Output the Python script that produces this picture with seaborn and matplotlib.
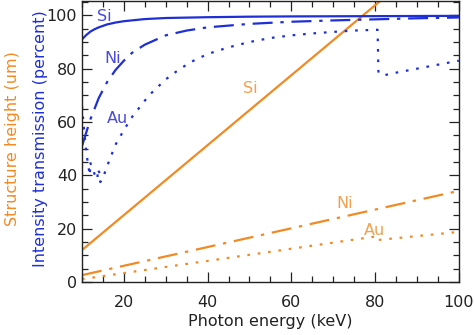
import matplotlib
matplotlib.use("Agg")
import matplotlib.pyplot as plt
from matplotlib.ticker import MultipleLocator
import seaborn as sns
import pandas as pd

sns.set_style("ticks")
plt.rcParams['font.family'] = ['DejaVu Sans']

# Transmission (percent) vs photon energy (keV)
si_t_x = [10, 11, 12, 13, 14, 16, 18, 20, 25, 30, 40, 50, 60, 80, 100]
si_t_y = [91, 92.6, 93.9, 94.8, 95.5, 96.6, 97.3, 97.8, 98.6, 99.0, 99.3, 99.5, 99.6, 99.7, 99.8]

ni_t_x = [10, 11, 12, 13, 14, 16, 18, 20, 22, 25, 30, 35, 40, 50, 60, 70, 80, 90, 100]
ni_t_y = [51, 56, 61, 65, 69, 75, 79.5, 83, 86, 89, 92.5, 94.3, 95.5, 96.8, 97.6, 98.1, 98.5, 98.9, 99.2]

au_t_x = [10.0, 10.5, 11.0, 11.5, 11.9, 11.92, 12.5, 13.0, 13.7, 13.73, 14.0, 14.35, 14.37,
          15, 16, 17, 18, 20, 22, 24, 26, 28, 30, 33, 36, 40, 45, 50, 55, 60, 65, 70, 75,
          80.6, 80.8, 82, 85, 90, 95, 100]
au_t_y = [66, 57, 49, 43.5, 40, 45, 42.5, 40.5, 38.5, 42.5, 41.5, 40.5, 37.5,
          39, 43.5, 47.5, 51.5, 57, 62, 66, 70, 73, 76, 79.5, 82.5, 85.5, 88, 90, 91.5, 92.5, 93.2, 93.8, 94.3,
          94.6, 78.5, 77.5, 78.5, 80, 81.5, 83]

# Structure height (um) vs photon energy (keV)
si_h_x = [10, 100]
si_h_y = [12, 130]

ni_h_x = [10, 100]
ni_h_y = [2.6, 34.2]

au_h_x = [10, 80.6, 80.8, 100]
au_h_y = [1.1, 17.2, 15.8, 18.8]

blue = "#1f2fd8"
orange = "#f28a24"
blue_txt = "#4a4ae0"
orange_txt = "#f3a04e"
ink = "#222222"
fs = 11.5

fig = plt.figure(figsize=(4.74, 3.35), dpi=100)
ax = fig.add_axes([0.173, 0.158, 0.795, 0.840])

dash_dot = (0, (9, 3.5, 1.5, 3.5))
dotted = (0, (1.2, 3.5))

def draw(xs, ys, color, ls):
    df = pd.DataFrame({"x": xs, "y": ys})
    sns.lineplot(data=df, x="x", y="y", ax=ax, color=color, linestyle=ls,
                 linewidth=1.6, estimator=None, sort=False, legend=False)

draw(si_h_x, si_h_y, orange, "-")
draw(ni_h_x, ni_h_y, orange, dash_dot)
draw(au_h_x, au_h_y, orange, dotted)
draw(si_t_x, si_t_y, blue, "-")
draw(ni_t_x, ni_t_y, blue, dash_dot)
draw(au_t_x, au_t_y, blue, dotted)

ax.set_xlim(10, 100)
ax.set_ylim(0, 105.5)
ax.xaxis.set_major_locator(MultipleLocator(20))
ax.xaxis.set_minor_locator(MultipleLocator(5))
ax.yaxis.set_major_locator(MultipleLocator(20))
ax.yaxis.set_minor_locator(MultipleLocator(5))
ax.tick_params(which='both', direction='in', top=True, right=True, colors=ink,
               labelsize=fs, width=0.9)
ax.tick_params(which='major', length=7)
ax.tick_params(which='minor', length=4)
ax.tick_params(axis='x', which='major', pad=9)
for s in ax.spines.values():
    s.set_color(ink)
    s.set_linewidth(1.0)

ax.set_xlabel("Photon energy (keV)", fontsize=fs, color=ink, labelpad=3)
ax.set_ylabel("")

fig.text(0.085, 0.585, "Intensity transmission (percent)", rotation=90, color=blue,
         fontsize=fs, ha='center', va='center')
fig.text(0.027, 0.585, "Structure height (um)", rotation=90, color=orange,
         fontsize=fs, ha='center', va='center')

ax.text(15.3, 99.5, "Si", color=blue_txt, fontsize=fs, ha='center', va='center')
ax.text(17.3, 84, "Ni", color=blue_txt, fontsize=fs, ha='center', va='center')
ax.text(18.5, 61.5, "Au", color=blue_txt, fontsize=fs, ha='center', va='center')
ax.text(50.3, 72.5, "Si", color=orange_txt, fontsize=fs, ha='center', va='center')
ax.text(72.7, 29.5, "Ni", color=orange_txt, fontsize=fs, ha='center', va='center')
ax.text(79.8, 19.5, "Au", color=orange_txt, fontsize=fs, ha='center', va='center')

fig.savefig("out.png", dpi=100)
